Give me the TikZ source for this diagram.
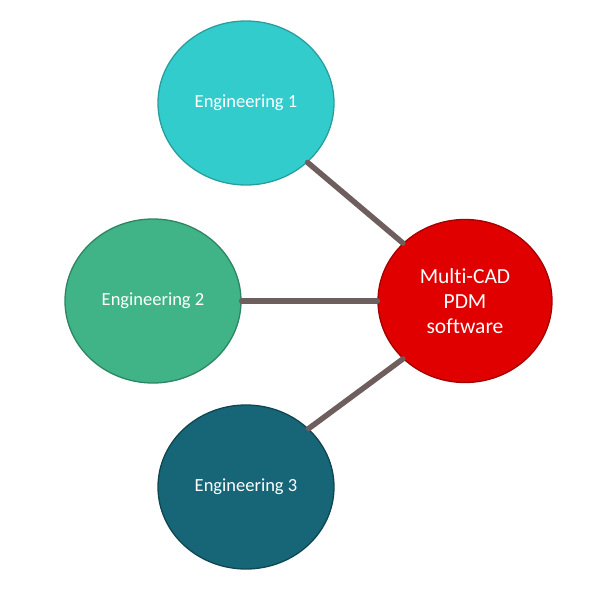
\documentclass[tikz,border=0pt]{standalone}
\usepackage{fontspec}
\setmainfont{Carlito}[Ligatures=NoCommon]
\usepackage{tikz}
\usetikzlibrary{shapes.geometric}
\definecolor{engone}{HTML}{33CCCC}
\definecolor{engoneb}{HTML}{2A9E9E}
\definecolor{engtwo}{HTML}{40B487}
\definecolor{engtwob}{HTML}{2D8563}
\definecolor{engthree}{HTML}{176677}
\definecolor{engthreeb}{HTML}{0F4653}
\definecolor{cadred}{HTML}{E00000}
\definecolor{cadredb}{HTML}{A30000}
\definecolor{linkgray}{HTML}{6E5E5E}
\tikzset{
 blob/.style={ellipse, minimum width=176pt, minimum height=164pt, inner sep=0pt,
  line width=1.3pt, text=white, align=center,
  font=\fontsize{18.5}{25}\selectfont},
 link/.style={linkgray, line width=5.5pt, line cap=round}
}

\begin{document}
\begin{tikzpicture} [x=1pt,y=-1pt]
\useasboundingbox (0,0) rectangle (595,598);
\node[blob, fill=engone, draw=engoneb] (eng1) at (246,103) {Engineering 1};
\node[blob, fill=engtwo, draw=engtwob] (eng2) at (153,301) {Engineering 2};
\node[blob, fill=engthree, draw=engthreeb] (eng3) at (246,487) {Engineering 3};
\node[blob, fill=cadred, draw=cadredb, minimum width=174pt, minimum height=163pt,
 font=\fontsize{21.5}{25}\selectfont] (cad) at (465,301) {Multi-CAD\\PDM\\software};
\draw[link] (eng1.-44) -- (cad.137);
\draw[link] (eng2.east) -- (cad.west);
\draw[link] (eng3.43) -- (cad.-137);
\end{tikzpicture}
\end{document}
